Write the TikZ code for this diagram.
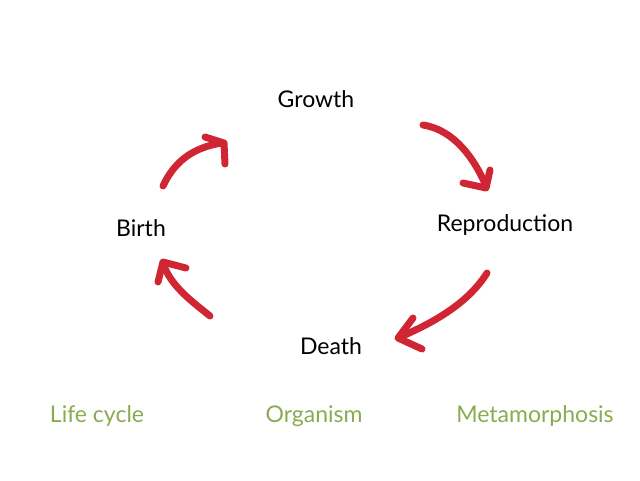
\documentclass[tikz,border=0pt]{standalone}
\usepackage{fontspec}
\setmainfont{Lato}
\begin{document}
\begin{tikzpicture}[x=1pt,y=-1pt,
  lbl/.style={font=\fontsize{23}{26}\selectfont,text=black},
  key/.style={font=\fontsize{23}{26}\selectfont,text=kw},
  stroke/.style={draw=rd,line width=7pt,line cap=round,line join=round}]
\definecolor{rd}{RGB}{208,38,52}
\definecolor{kw}{RGB}{140,170,80}
\useasboundingbox (0,0) rectangle (640,480);
\node[lbl] (growth) at (316,99) {Growth};
\node[lbl] (repro) at (505,225) {Reproduction};
\node[lbl] (death) at (331,346) {Death};
\node[lbl] (birth) at (141,228) {Birth};
\node[key] (lc) at (97,416) {Life cycle};
\node[key] (org) at (314,416) {Organism};
\node[key] (meta) at (535,416) {Metamorphosis};
\draw[stroke] (163,186) .. controls (175,160) and (195,147) .. (222,143);
\draw[stroke] (205,137) -- (224,143) -- (225,164);
\draw[stroke] (423,125) .. controls (455,130) and (475,160) .. (486,186);
\draw[stroke] (463,183) -- (486,188) -- (490,170);
\draw[stroke] (487,273) .. controls (470,300) and (440,320) .. (400,337);
\draw[stroke] (413,318) -- (398,338) -- (422,349);
\draw[stroke] (210,316) .. controls (190,300) and (170,285) .. (163,263);
\draw[stroke] (158,282) -- (163,262) -- (186,268);
\end{tikzpicture}
\end{document}
